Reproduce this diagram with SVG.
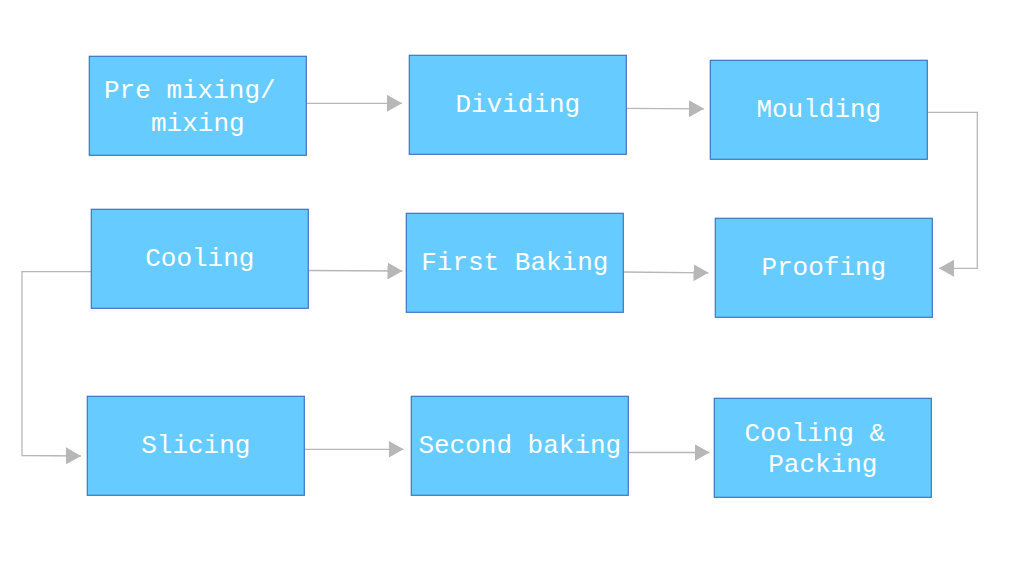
<svg xmlns="http://www.w3.org/2000/svg" width="1021" height="576" viewBox="0 0 1021 576">
<style>
.box{fill:#66ccff;stroke:#3d74c2;stroke-width:1.2}
.t{font-family:"Liberation Mono","Courier New",monospace;font-size:26px;fill:#ffffff;text-anchor:middle}
.c{fill:none;stroke:#b7b7b7;stroke-width:1.3}
</style>
<defs>
<marker id="ah" markerUnits="userSpaceOnUse" markerWidth="15" markerHeight="17" refX="15" refY="8.5" orient="auto">
<path d="M0,0 L15,8.5 L0,17 z" fill="#b7b7b7"/>
</marker>
</defs>
<rect width="1021" height="576" fill="#ffffff"/>
<g id="connectors">
<path class="c" d="M306,103.3 L402,103.3" marker-end="url(#ah)"/>
<path class="c" d="M626,108.3 L704,108.8" marker-end="url(#ah)"/>
<path class="c" d="M927.5,112.3 L977.3,112.3 L977.3,268.3 L939,268.3" marker-end="url(#ah)"/>
<path class="c" d="M623,272 L708.5,272.8" marker-end="url(#ah)"/>
<path class="c" d="M308,270.5 L402.5,271" marker-end="url(#ah)"/>
<path class="c" d="M91,271.7 L22,271.7 L22,455.5 L81,456" marker-end="url(#ah)"/>
<path class="c" d="M304,449.3 L403.5,449.3" marker-end="url(#ah)"/>
<path class="c" d="M628,452.5 L709.5,452.5" marker-end="url(#ah)"/>
</g>
<g id="node-premixing">
<rect class="box" x="89.3" y="56.3" width="217" height="99"/>
<text class="t"><tspan x="189.8" y="98.3">Pre mixing/</tspan><tspan x="197.8" y="130.5">mixing</tspan></text>
</g>
<g id="node-dividing">
<rect class="box" x="409.3" y="55.3" width="217" height="99"/>
<text class="t" x="517.8" y="112">Dividing</text>
</g>
<g id="node-moulding">
<rect class="box" x="710.3" y="60.3" width="217" height="99"/>
<text class="t" x="818.8" y="117">Moulding</text>
</g>
<g id="node-cooling">
<rect class="box" x="91.3" y="209.3" width="217" height="99"/>
<text class="t" x="199.8" y="266">Cooling</text>
</g>
<g id="node-firstbaking">
<rect class="box" x="406.3" y="213.3" width="217" height="99"/>
<text class="t" x="514.8" y="270">First Baking</text>
</g>
<g id="node-proofing">
<rect class="box" x="715.3" y="218.3" width="217" height="99"/>
<text class="t" x="823.8" y="275">Proofing</text>
</g>
<g id="node-slicing">
<rect class="box" x="87.3" y="396.3" width="217" height="99"/>
<text class="t" x="195.8" y="453">Slicing</text>
</g>
<g id="node-secondbaking">
<rect class="box" x="411.3" y="396.3" width="217" height="99"/>
<text class="t" x="519.8" y="453">Second baking</text>
</g>
<g id="node-coolingpacking">
<rect class="box" x="714.3" y="398.3" width="217" height="99"/>
<text class="t"><tspan x="814.8" y="441">Cooling &amp;</tspan><tspan x="822.8" y="472">Packing</tspan></text>
</g>
</svg>
